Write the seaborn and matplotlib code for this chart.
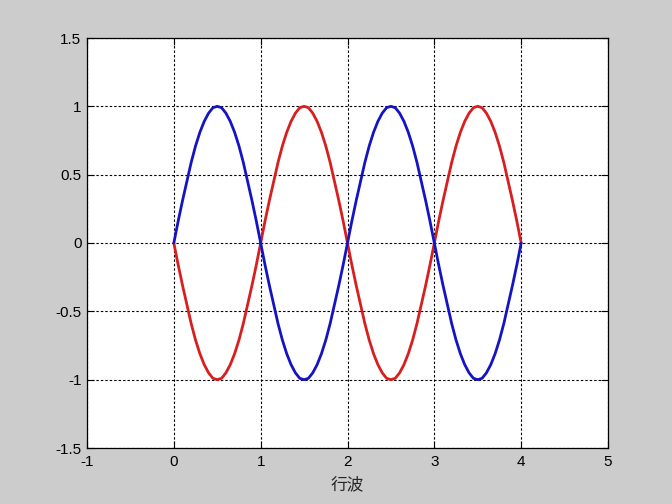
import pandas as pd
import matplotlib
matplotlib.use("Agg")
import matplotlib.pyplot as plt
import seaborn as sns

x_vals = [round(0.05 * i, 2) for i in range(81)]
blue_y = [0, 0.16, 0.31, 0.45, 0.59, 0.71, 0.81, 0.89, 0.95, 0.99,
          1, 0.99, 0.95, 0.89, 0.81, 0.71, 0.59, 0.45, 0.31, 0.16,
          0, -0.16, -0.31, -0.45, -0.59, -0.71, -0.81, -0.89, -0.95, -0.99,
          -1, -0.99, -0.95, -0.89, -0.81, -0.71, -0.59, -0.45, -0.31, -0.16,
          0, 0.16, 0.31, 0.45, 0.59, 0.71, 0.81, 0.89, 0.95, 0.99,
          1, 0.99, 0.95, 0.89, 0.81, 0.71, 0.59, 0.45, 0.31, 0.16,
          0, -0.16, -0.31, -0.45, -0.59, -0.71, -0.81, -0.89, -0.95, -0.99,
          -1, -0.99, -0.95, -0.89, -0.81, -0.71, -0.59, -0.45, -0.31, -0.16, 0]
red_y = [0, -0.16, -0.31, -0.45, -0.59, -0.71, -0.81, -0.89, -0.95, -0.99,
         -1, -0.99, -0.95, -0.89, -0.81, -0.71, -0.59, -0.45, -0.31, -0.16,
         0, 0.16, 0.31, 0.45, 0.59, 0.71, 0.81, 0.89, 0.95, 0.99,
         1, 0.99, 0.95, 0.89, 0.81, 0.71, 0.59, 0.45, 0.31, 0.16,
         0, -0.16, -0.31, -0.45, -0.59, -0.71, -0.81, -0.89, -0.95, -0.99,
         -1, -0.99, -0.95, -0.89, -0.81, -0.71, -0.59, -0.45, -0.31, -0.16,
         0, 0.16, 0.31, 0.45, 0.59, 0.71, 0.81, 0.89, 0.95, 0.99,
         1, 0.99, 0.95, 0.89, 0.81, 0.71, 0.59, 0.45, 0.31, 0.16, 0]
x_ticks = [-1, 0, 1, 2, 3, 4, 5]
y_ticks = [-1.5, -1, -0.5, 0, 0.5, 1, 1.5]

df = pd.DataFrame({
    "x": x_vals + x_vals,
    "y": blue_y + red_y,
    "s": ["blue"] * len(x_vals) + ["red"] * len(x_vals),
})

sns.set_style("ticks")
plt.rcParams["font.family"] = ["Liberation Sans", "Noto Sans CJK SC", "DejaVu Sans"]
plt.rcParams["xtick.direction"] = "in"
plt.rcParams["ytick.direction"] = "in"

fig = plt.figure(figsize=(6.72, 5.04), dpi=100, facecolor="#cccccc")
ax = fig.add_axes([87 / 672, 1 - 448 / 504, (608 - 87) / 672, (448 - 38) / 504])
ax.set_facecolor("white")

# red first so the blue line sits on top at the crossings
sns.lineplot(data=df, x="x", y="y", hue="s", hue_order=["red", "blue"],
             palette={"blue": "#1414c4", "red": "#d81e1e"},
             sort=False, linewidth=2, legend=False, ax=ax, zorder=3)

ax.set_xlim(-1, 5)
ax.set_ylim(-1.5, 1.5)
ax.set_xticks(x_ticks)
ax.set_yticks(y_ticks)
ax.set_xticklabels([str(t) for t in x_ticks])
ax.set_yticklabels([f"{t:g}" for t in y_ticks])
ax.tick_params(axis="x", pad=5)
ax.tick_params(axis="y", pad=4)
ax.tick_params(which="both", top=True, right=True, length=5, width=0.8,
               labelsize=11, colors="black")
ax.grid(True, linestyle=(0, (2.2, 1.8)), color="black", linewidth=0.8)
for sp in ax.spines.values():
    sp.set_color("black")
    sp.set_linewidth(0.9)

ax.set_ylabel("")
ax.set_xlabel("行波", fontsize=12, family=["Noto Sans CJK SC", "DejaVu Sans"], labelpad=5)

fig.savefig("out.png", dpi=100, facecolor=fig.get_facecolor())
